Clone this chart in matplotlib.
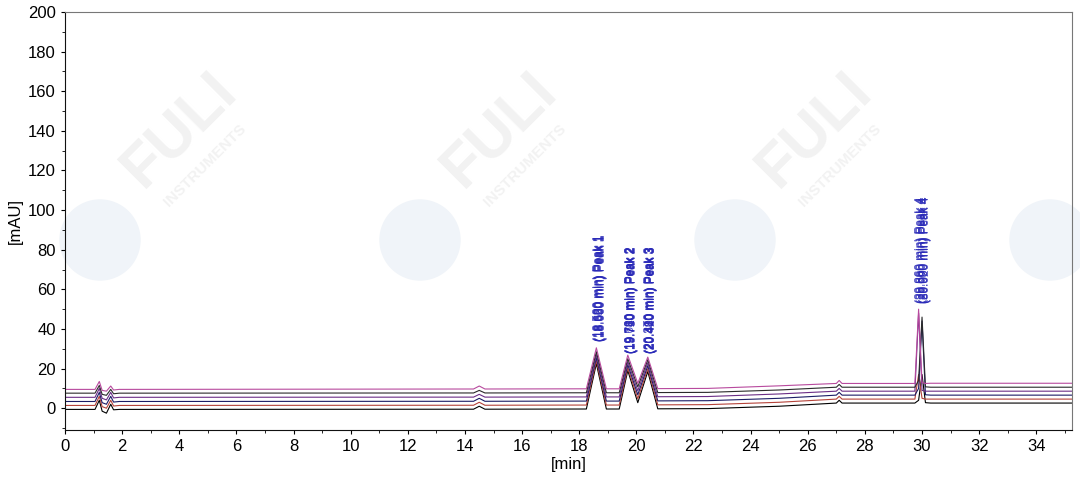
import matplotlib
matplotlib.use('Agg')
import matplotlib.pyplot as plt
import numpy as np

plt.rcParams['font.family'] = ['Liberation Sans', 'DejaVu Sans']

# vertex times shared by all traces (min)
t = [0, 1.05, 1.2, 1.3, 1.45, 1.6, 1.7, 1.9, 14.3, 14.5, 14.7, 18.25, 18.6, 18.95,
     19.4, 19.7, 20.05, 20.4, 20.75, 22.5, 25.0, 27.0, 27.1, 27.2, 29.75, 29.88,
     30.0, 30.12, 30.3, 35.25]

# signal (mAU) of each overlaid run, top to bottom
run1 = [9.5, 9.5, 13.5, 9.0, 8.6, 11.2, 9.2, 9.5, 9.7, 11.2, 9.7, 9.8, 30.5, 9.8,
        9.8, 26.8, 12.5, 25.8, 9.9, 10.0, 11.3, 12.5, 14.0, 12.5, 12.5, 50.0, 13.0,
        12.5, 12.6, 12.6]
run2 = [7.6, 7.6, 11.5, 7.0, 6.5, 9.5, 7.3, 7.6, 7.7, 9.0, 7.7, 7.8, 28.5, 7.8,
        7.8, 25.0, 10.8, 24.5, 7.9, 8.0, 9.2, 10.6, 12.0, 10.6, 10.6, 14.0, 46.0,
        10.8, 10.6, 10.6]
run3 = [5.5, 5.5, 10.0, 5.0, 4.2, 8.0, 5.2, 5.5, 5.6, 7.0, 5.6, 5.7, 27.0, 5.7,
        5.7, 23.5, 8.8, 23.0, 5.8, 5.9, 7.2, 8.6, 10.0, 8.6, 8.6, 48.0, 9.0,
        8.6, 8.6, 8.6]
run4 = [3.4, 3.4, 8.0, 2.8, 2.0, 6.0, 3.1, 3.4, 3.5, 5.0, 3.5, 3.6, 25.5, 3.6,
        3.6, 22.0, 6.8, 21.5, 3.7, 3.8, 5.0, 6.6, 8.0, 6.6, 6.6, 10.0, 44.0,
        6.8, 6.6, 6.6]
run5 = [1.4, 1.4, 6.0, 0.8, 0.0, 4.0, 1.1, 1.4, 1.5, 3.0, 1.5, 1.6, 24.0, 1.6,
        1.6, 20.5, 4.8, 20.0, 1.7, 1.8, 3.0, 4.6, 6.0, 4.6, 4.6, 17.0, 5.0,
        4.6, 4.6, 4.6]
run6 = [-0.6, -0.6, 4.0, -1.5, -2.5, 2.0, -0.8, -0.6, -0.5, 1.0, -0.5, -0.4, 22.5,
        -0.4, -0.4, 19.0, 2.8, 18.5, -0.3, -0.2, 1.0, 2.6, 4.0, 2.6, 2.6, 4.0, 17.0,
        2.8, 2.6, 2.6]
runs = [run1, run2, run3, run4, run5, run6]
run_colors = ['#b84a9e', '#2b2b2b', '#6b2d86', '#1c1c66', '#b5433a', '#000000']

# peak annotations: retention times per run and label bottoms
peak_names = ['Peak 1', 'Peak 2', 'Peak 3', 'Peak 4']
peak_rt = [[18.58, 18.60, 18.62, 18.63, 18.65, 18.66],
           [19.68, 19.70, 19.71, 19.72, 19.74, 19.75],
           [20.37, 20.38, 20.40, 20.41, 20.42, 20.44],
           [29.86, 29.88, 29.90, 29.98, 30.00, 30.02]]
label_base = [34, 28, 28, 53]

fig = plt.figure(figsize=(10.8, 4.92), dpi=100)
ax = fig.add_axes([0.0602, 0.126, 0.9324, 0.8496])
ax.patch.set_alpha(0)

# faint watermark
for cx in [100, 420, 735, 1050]:
    circ = plt.Circle((cx / 100, (492 - 240) / 100), 0.4, transform=fig.dpi_scale_trans,
                      color='#f0f4f9', zorder=0)
    fig.add_artist(circ)
for cx in [100, 420, 735]:
    fig.text((cx + 80) / 1080, (492 - 130) / 492, 'FULI', rotation=45, fontsize=44,
             fontweight='bold', color='#f2f2f2', ha='center', va='center', zorder=0)
    fig.text((cx + 105) / 1080, (492 - 165) / 492, 'INSTRUMENTS', rotation=45,
             fontsize=11, fontweight='bold', color='#f2f2f2', ha='center', va='center',
             zorder=0)

for y, c in zip(runs[::-1], run_colors[::-1]):
    ax.plot(t, y, color=c, lw=0.8)

for k, name in enumerate(peak_names):
    for j, rt in enumerate(peak_rt[k]):
        ax.text(rt + 0.12, label_base[k], f'({rt:.3f} min) {name}', rotation=90,
                fontsize=8.5, color='#2a2ab8', ha='center', va='bottom', alpha=0.8)

ax.set_xlim(0, 35.25)
ax.set_ylim(-11, 200)
ax.set_xticks(np.arange(0, 35, 2))
ax.set_yticks(np.arange(0, 201, 20))
ax.set_yticks(np.arange(-10, 200, 10), minor=True)
ax.set_xticks(np.arange(0, 35.25, 1), minor=True)
ax.tick_params(labelsize=12, length=3, width=0.8, direction='out')
ax.tick_params(which='minor', length=2, width=0.6)
ax.set_xlabel('[min]', fontsize=12, labelpad=2)
ax.set_ylabel('[mAU]', fontsize=12, labelpad=4)
for s in ['top', 'right']:
    ax.spines[s].set_color('#777777')
for s in ['left', 'bottom']:
    ax.spines[s].set_color('#111111')

fig.savefig('out.png', dpi=100)
